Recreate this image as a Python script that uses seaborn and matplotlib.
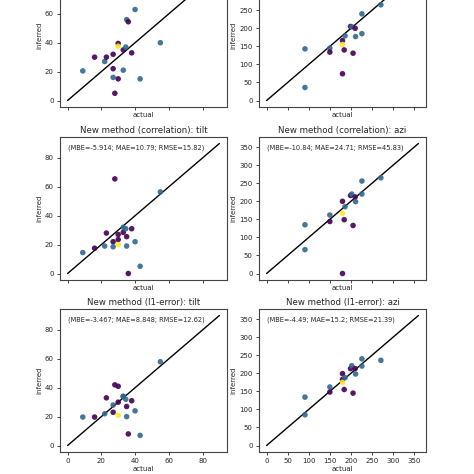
import numpy as np
import pandas as pd
import seaborn as sns
from matplotlib import pyplot as plt

# tilt panels
tilt_actual_old = [9, 16, 22, 23, 27, 27, 27, 28, 30, 30, 30, 33, 33, 34.5, 35, 36, 38, 40, 43, 55]
tilt_infer_old = [20.5, 30, 27, 30, 32, 22, 16, 5, 39.5, 37.5, 15, 35, 21, 37, 56, 54.5, 33, 63, 15, 40]
tilt_class_old = [1, 0, 1, 0, 0, 0, 1, 0, 0, 2, 0, 0, 1, 1, 1, 0, 0, 1, 1, 1]

tilt_actual_corr = [9, 16, 22, 23, 27, 27, 28, 30, 30, 30, 33, 33, 34.5, 35, 35, 36, 38, 40, 43, 55]
tilt_infer_corr = [14.5, 17.5, 19, 28, 22, 18.5, 65.5, 27, 23.5, 20, 28.5, 32, 31, 25.5, 19, 0, 31, 22, 5, 56.5]
tilt_class_corr = [1, 0, 1, 0, 0, 1, 0, 0, 0, 2, 0, 1, 1, 0, 1, 0, 0, 1, 1, 1]

tilt_actual_l1 = [9, 16, 22, 23, 27, 27, 28, 30, 30, 30, 33, 33, 34.5, 35, 35, 36, 38, 40, 43, 55]
tilt_infer_l1 = [19.7, 19.7, 22, 33, 23, 28, 42, 41, 30, 21, 34, 34, 32, 27, 20, 8, 31, 24, 7, 58]
tilt_class_l1 = [1, 0, 1, 0, 0, 1, 0, 0, 0, 2, 0, 1, 1, 0, 1, 0, 0, 1, 1, 1]

# azimuth panels
azi_actual = [91, 91, 150, 150, 180, 180, 180, 184, 186, 199, 202, 205, 210, 211, 226, 226, 271]
azi_class = [1, 1, 1, 0, 0, 0, 2, 0, 1, 0, 1, 0, 0, 1, 1, 1, 1]
azi_infer_old = [143, 36, 145, 134, 74, 166, 155, 140, 179, 205, 204, 131, 200, 177, 240, 185, 265]
azi_infer_corr = [135, 66, 162, 144, 0, 200, 167, 149, 185, 216, 220, 133, 212, 199, 256, 220, 265]
azi_infer_l1 = [134, 85, 162, 148, 183, 199, 175, 155, 188, 213, 221, 145, 213, 198, 240, 220, 236]

titles = ["New method (correlation): tilt", "New method (correlation): azi",
          "New method (l1-error): tilt", "New method (l1-error): azi"]
stats = ["(MBE=-5.914; MAE=10.79; RMSE=15.82)", "(MBE=-10.84; MAE=24.71; RMSE=45.83)",
         "(MBE=-3.467; MAE=8.848; RMSE=12.62)", "(MBE=-4.49; MAE=15.2; RMSE=21.39)"]

palette = {0: "#440154", 1: "#31688e", 2: "#fde725"}

sns.set_style("ticks")
plt.rcParams['font.family'] = ['DejaVu Sans']
fig = plt.figure(figsize=(4.74, 4.74), dpi=100)

W, H = 474.0, 474.0
lefts = [60, 259]
tops = [-36, 137, 309]
aw, ah = 167, 143

panels = [
    (tilt_actual_old, tilt_infer_old, tilt_class_old, 90, None, None),
    (azi_actual, azi_infer_old, azi_class, 360, None, None),
    (tilt_actual_corr, tilt_infer_corr, tilt_class_corr, 90, titles[0], stats[0]),
    (azi_actual, azi_infer_corr, azi_class, 360, titles[1], stats[1]),
    (tilt_actual_l1, tilt_infer_l1, tilt_class_l1, 90, titles[2], stats[2]),
    (azi_actual, azi_infer_l1, azi_class, 360, titles[3], stats[3]),
]

for i, (xa, ya, ca, lim, title, stat) in enumerate(panels):
    row, col = i // 2, i % 2
    ax = fig.add_axes([lefts[col] / W, 1 - (tops[row] + ah) / H, aw / W, ah / H])
    df = pd.DataFrame({'actual': xa, 'inferred': ya, 'cls': ca})
    sns.scatterplot(data=df, x='actual', y='inferred', hue='cls', palette=palette,
                    s=16, linewidth=0, alpha=0.9, legend=False, ax=ax, zorder=3)
    ax.plot([0, lim], [0, lim], color='black', lw=1)
    pad = lim * 0.05
    ax.set_xlim(-pad, lim + pad)
    ax.set_ylim(-pad, lim + pad)
    if lim == 90:
        ax.set_xticks([0, 20, 40, 60, 80])
        ax.set_yticks([0, 20, 40, 60, 80])
    else:
        ax.set_xticks(range(0, 351, 50))
        ax.set_yticks(range(0, 351, 50))
    if row < 2:
        ax.tick_params(labelbottom=False)
    ax.tick_params(labelsize=5, length=2.5, width=0.6, pad=2)
    ax.set_xlabel('actual', fontsize=5, labelpad=1)
    ax.set_ylabel('inferred', fontsize=5, labelpad=2)
    for sp in ax.spines.values():
        sp.set_linewidth(0.8)
        sp.set_color('#444444')
    if title:
        ax.set_title(title, fontsize=6.2, pad=3)
        ax.text(0.05, 0.925, stat, transform=ax.transAxes, fontsize=4.8, va='center')

fig.savefig('out.png', dpi=100)
